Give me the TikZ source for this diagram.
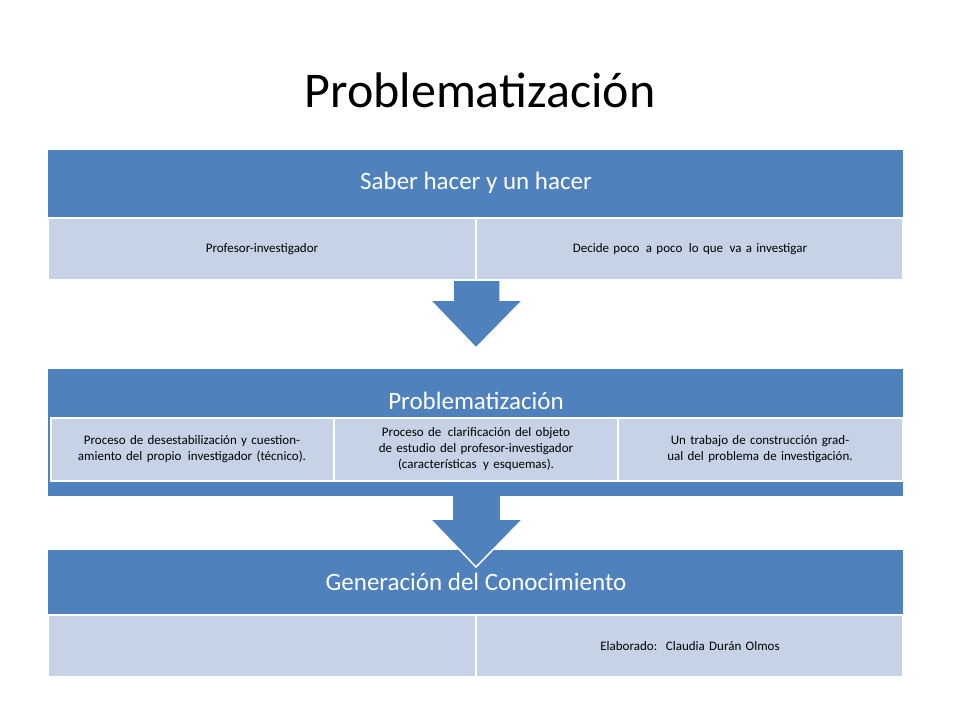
\documentclass[tikz,border=0pt]{standalone}
\usepackage{fontspec}
\setmainfont{Carlito}
\begin{document}
\begin{tikzpicture}[x=1pt,y=-1pt,
  dk/.style={fill=bl,draw=none},
  lt/.style={fill=lb,draw=white,line width=1.5pt},
  arr/.style={fill=bl,draw=white,line width=1.5pt,line join=miter},
  sm/.style={font=\fontsize{13}{16}\selectfont,align=center,text width=260pt}]
\definecolor{bl}{HTML}{4F81BD}
\definecolor{lb}{HTML}{C6D3E7}
\useasboundingbox[fill=white] (0,0) rectangle (960,720);
\node (title) at (480,90) {\fontsize{50}{60}\selectfont Problematización};
% block 1
\fill[dk] (48,150) rectangle (903,218);
\node[text=white,font=\fontsize{25}{30}\selectfont] (h1) at (476,183) {Saber hacer y un hacer};
\draw[lt] (48,218) rectangle (476,280);
\draw[lt] (476,218) rectangle (903,280);
\node[sm] (b1a) at (262,249) {Profesor-investigador};
\node[sm] (b1b) at (690,249) {Decide poco\, a poco\, lo que\, va a investigar};
% arrow 1
\draw[arr] (453,280) -- (500,280) -- (500,300) -- (523,300) -- (476,348) -- (430,300) -- (453,300) -- cycle;
% block 2
\fill[dk] (48,369) rectangle (903,496);
\node[text=white,font=\fontsize{25}{30}\selectfont] (h2) at (476,401) {Problematización};
\draw[lt] (51,418) rectangle (334,481);
\draw[lt] (334,418) rectangle (618,481);
\draw[lt] (618,418) rectangle (903,481);
\node[sm] (b2a) at (192,449) {Proceso de desestabilización y cuestionamiento del propio\, investigador (técnico).};
\node[sm] (b2b) at (476,449) {Proceso de\, clarificación del objeto de estudio del profesor-investigador (características\, y esquemas).};
\node[sm] (b2c) at (760,449) {Un trabajo de construcción gradual del problema de investigación.};
% block 3
\fill[dk] (48,550) rectangle (903,615);
\node[text=white,font=\fontsize{25}{30}\selectfont] (h3) at (476,582) {Generación del Conocimiento};
\draw[lt] (48,615) rectangle (476,677);
\draw[lt] (476,615) rectangle (903,677);
\node[sm] (b3b) at (690,646) {Elaborado:\, Claudia Durán Olmos};
% arrow 2
\fill[bl] (453,494) rectangle (500,520);
\draw[arr] (453,519) -- (430,519) -- (476,567) -- (523,519) -- (500,519);
\fill[bl] (453.8,495) rectangle (499.2,521);
\end{tikzpicture}
\end{document}
